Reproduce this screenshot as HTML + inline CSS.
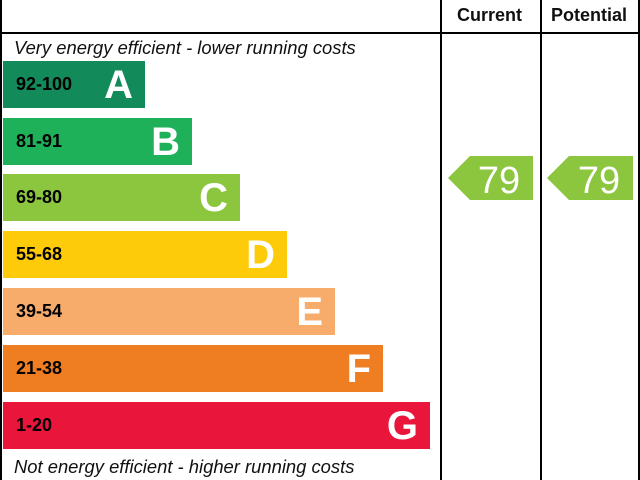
<!DOCTYPE html>
<html><head><style>
body{margin:0;width:640px;height:480px;background:#fff;overflow:hidden;position:relative;font-family:"Liberation Sans",Arial,sans-serif}
.l{position:absolute;background:#000}
.bar{position:absolute;left:3px;height:47px}
.bar .r{position:absolute;left:13px;top:13px;font-size:18px;font-weight:bold;color:#000}
.bar .g{position:absolute;right:12px;top:2px;font-size:40px;font-weight:bold;color:#fff}
.t{position:absolute;left:14px;font-style:italic;font-size:18.4px;color:#111}
.h{position:absolute;top:5px;font-weight:bold;font-size:18px;color:#111}
</style></head><body>
<div class="l" style="left:0;top:0;width:2px;height:480px"></div>
<div class="l" style="left:440px;top:0;width:2px;height:480px"></div>
<div class="l" style="left:540px;top:0;width:2px;height:480px"></div>
<div class="l" style="left:638px;top:0;width:2px;height:480px"></div>
<div class="l" style="left:0;top:32px;width:640px;height:2px"></div>
<div class="h" style="left:457px">Current</div>
<div class="h" style="left:551px">Potential</div>
<div class="t" style="top:37px">Very energy efficient - lower running costs</div>
<div class="t" style="top:456px">Not energy efficient - higher running costs</div>
<div class="bar" style="top:61px;width:142px;background:#128a5a"><span class="r">92-100</span><span class="g">A</span></div>
<div class="bar" style="top:118px;width:189px;background:#1fb15a"><span class="r">81-91</span><span class="g">B</span></div>
<div class="bar" style="top:174px;width:237px;background:#8cc63f"><span class="r">69-80</span><span class="g">C</span></div>
<div class="bar" style="top:231px;width:284px;background:#fecb0b"><span class="r">55-68</span><span class="g">D</span></div>
<div class="bar" style="top:288px;width:332px;background:#f7ac6b"><span class="r">39-54</span><span class="g">E</span></div>
<div class="bar" style="top:345px;width:380px;background:#ef7d22"><span class="r">21-38</span><span class="g">F</span></div>
<div class="bar" style="top:402px;width:427px;background:#e9153b"><span class="r">1-20</span><span class="g">G</span></div>
<svg width="640" height="480" style="position:absolute;left:0;top:0">
<polygon points="448,178 470,156 533,156 533,200 470,200" fill="#8cc63f"/>
<polygon points="547,178 569,156 633,156 633,200 569,200" fill="#8cc63f"/>
<text x="499" y="193" font-family="Liberation Sans,Arial,sans-serif" font-size="38" fill="#fff" text-anchor="middle">79</text>
<text x="599" y="193" font-family="Liberation Sans,Arial,sans-serif" font-size="38" fill="#fff" text-anchor="middle">79</text>
</svg>
</body></html>
